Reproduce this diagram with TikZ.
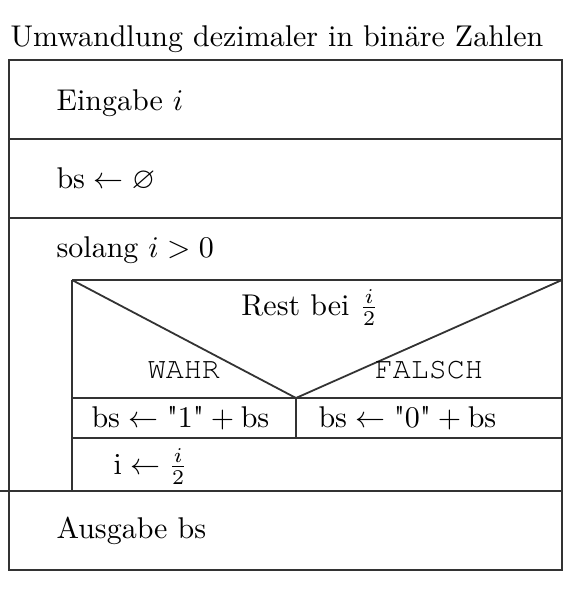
\documentclass[tikz,border=0pt]{standalone}
\usepackage[T1,TU]{fontenc}
\usepackage{amsmath}
\usepackage{amssymb}
\newcommand{\courtxt}[1]{{\fontencoding{T1}\fontfamily{pcr}\selectfont #1}}
\begin{document}
\begin{tikzpicture}[x=0.33333pt,y=-0.33333pt,
  frame/.style={line width=0.6pt, draw=black!80},
  txt/.style={anchor=base west, inner sep=0pt},
  ctxt/.style={anchor=base, inner sep=0pt}]
\useasboundingbox (0,0) rectangle (584,613);
% outer structure
\draw[frame] (9,60) rectangle (562,570);
\draw[frame] (9,139) -- (562,139);
\draw[frame] (9,218) -- (562,218);
% loop body
\draw[frame] (72,280) -- (562,280);
\draw[frame] (72,280) -- (72,491);
\draw[frame] (72,280) -- (296,398) -- (562,280);
\draw[frame] (72,398) -- (562,398);
\draw[frame] (296,398) -- (296,438);
\draw[frame] (72,438) -- (562,438);
\draw[frame] (0,491) -- (562,491);
% texts
\node[txt] (title) at (10,46) {Umwandlung dezimaler in binäre Zahlen};
\node[txt] (in) at (56,110) {Eingabe $i$};
\node[txt] (init) at (56,188) {$\mathrm{bs} \leftarrow \varnothing$};
\node[txt] (loop) at (56,257) {solang $i > 0$};
\node[ctxt] (cond) at (310,315) {Rest bei $\frac{i}{2}$};
\node[ctxt] (yes) at (184,378) {\courtxt{WAHR}};
\node[ctxt] (no) at (429,378) {\courtxt{FALSCH}};
\node[txt] (a1) at (91,427) {$\mathrm{bs} \leftarrow \text{\textquotedbl 1\textquotedbl} + \mathrm{bs}$};
\node[txt] (a0) at (318,427) {$\mathrm{bs} \leftarrow \text{\textquotedbl 0\textquotedbl} + \mathrm{bs}$};
\node[txt] (half) at (113,474) {$\mathrm{i} \leftarrow \frac{i}{2}$};
\node[txt] (out) at (56,538) {Ausgabe bs};
\end{tikzpicture}
\end{document}
